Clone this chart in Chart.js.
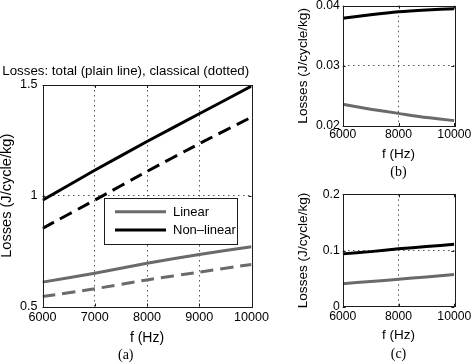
<!DOCTYPE html>
<html>
<head>
<meta charset="utf-8">
<script src="https://cdn.jsdelivr.net/npm/chart.js@4"></script>
<style>
html, body { margin: 0; padding: 0; background: #fff; }
#wrap { position: relative; width: 474px; height: 362px; overflow: hidden; }
canvas { position: absolute; }
</style>
</head>
<body>
<div id="wrap">
  <canvas id="panelA"></canvas>
  <canvas id="panelB"></canvas>
  <canvas id="panelC"></canvas>
</div>
<script>
// frequency (Hz)
var freq = [6000, 7000, 8000, 9000, 10000];

// (a) total and classical losses (J/cycle/kg)
var totalLinear = [0.61, 0.65, 0.695, 0.735, 0.77];
var classicalLinear = [0.545, 0.58, 0.62, 0.655, 0.69];
var totalNonlinear = [0.98, 1.115, 1.245, 1.37, 1.495];
var classicalNonlinear = [0.853, 0.98, 1.11, 1.235, 1.355];

// (b)
var bLinear = [0.0236, 0.0228, 0.0221, 0.0214, 0.0209];
var bNonlinear = [0.0379, 0.0385, 0.039, 0.0393, 0.0395];

// (c)
var cLinear = [0.041, 0.0448, 0.0488, 0.053, 0.0575];
var cNonlinear = [0.094, 0.098, 0.103, 0.107, 0.111];

var seriesNames = ['Linear', 'Non\u2013linear'];
var titleA = 'Losses: total (plain line), classical (dotted)';
var xLabel = 'f (Hz)';
var yLabel = 'Losses (J/cycle/kg)';

Chart.defaults.font.family = '"Liberation Sans", Arial, sans-serif';
Chart.defaults.color = '#000';

var GRAY = '#6a6a6a';

function line(label, data, color, dashed) {
  return {
    label: label,
    data: freq.map(function (f, i) { return {x: f, y: data[i]}; }),
    borderColor: color,
    borderWidth: 3,
    borderDash: dashed ? [13, 7] : [],
    pointRadius: 0,
    tension: 0.2,
    fill: false
  };
}

// box round the axes plus little inward tick marks, like matlab
var framePlugin = {
  id: 'frame',
  afterDatasetsDraw: function (chart) {
    var ctx = chart.ctx, a = chart.chartArea, sx = chart.scales.x, sy = chart.scales.y;
    ctx.save();
    ctx.strokeStyle = '#1c1c1c';
    ctx.lineWidth = 1;
    ctx.strokeRect(Math.round(a.left) + 0.5, Math.round(a.top) + 0.5,
                   Math.round(a.right - a.left), Math.round(a.bottom - a.top));
    ctx.beginPath();
    sx.ticks.forEach(function (tk) {
      var px = Math.round(sx.getPixelForValue(tk.value)) + 0.5;
      ctx.moveTo(px, a.bottom); ctx.lineTo(px, a.bottom - 3);
      ctx.moveTo(px, a.top); ctx.lineTo(px, a.top + 3);
    });
    sy.ticks.forEach(function (tk) {
      var py = Math.round(sy.getPixelForValue(tk.value)) + 0.5;
      ctx.moveTo(a.left, py); ctx.lineTo(a.left + 3, py);
      ctx.moveTo(a.right, py); ctx.lineTo(a.right - 3, py);
    });
    ctx.stroke();
    ctx.restore();
  }
};

// legend box inside panel (a), solid series only
var legendPlugin = {
  id: 'boxLegend',
  afterDraw: function (chart) {
    var opts = chart.options.plugins.boxLegend;
    if (!opts || !opts.show) return;
    var ctx = chart.ctx, a = chart.chartArea;
    var x0 = a.left + 61.5, y0 = a.top + 112.7, w = 133, h = 45.6;
    ctx.save();
    ctx.fillStyle = '#fff';
    ctx.fillRect(x0, y0, w, h);
    ctx.strokeStyle = '#1c1c1c';
    ctx.lineWidth = 1;
    ctx.strokeRect(Math.round(x0) + 0.5, Math.round(y0) + 0.5, Math.round(w), Math.round(h));
    ctx.font = '13px "Liberation Sans", Arial, sans-serif';
    ctx.textBaseline = 'middle';
    ctx.fillStyle = '#000';
    var rowY = [14, 32.3], k = 0;
    chart.data.datasets.forEach(function (ds) {
      if (ds.borderDash.length) return;
      var y = y0 + rowY[k++];
      ctx.strokeStyle = ds.borderColor;
      ctx.lineWidth = 3;
      ctx.beginPath();
      ctx.moveTo(x0 + 11, y); ctx.lineTo(x0 + 62, y);
      ctx.stroke();
      ctx.fillText(ds.label, x0 + 69, y + 0.5);
    });
    ctx.restore();
  }
};

function makePanel(id, p) {
  var cv = document.getElementById(id);
  var B = p.box;
  cv.width = B.w; cv.height = B.h;
  cv.style.left = B.x + 'px'; cv.style.top = B.y + 'px';
  cv.style.width = B.w + 'px'; cv.style.height = B.h + 'px';

  var l = p.area.l - B.x, t = p.area.t - B.y, r = p.area.r - B.x, b = p.area.b - B.y;

  var subSize = 14, titleSize = 13.3;
  var axSize = p.axSize, yTitleSize = p.yTitleSize, tickSize = p.tickSize;
  var subPadTop = 2;
  var subPadBottom = Math.max(0, B.h - (p.subY - B.y) - subSize / 2);
  var xBottom = B.h - subPadBottom - subSize - subPadTop;
  var xTitlePad = xBottom - (p.xTitleY - B.y) - axSize / 2;
  var xHeight = xBottom - b;
  var xTickPad = (p.xTickY - B.y) - b - tickSize * 1.2 / 2;
  var yTitlePad = (p.yTitleX - B.x) - yTitleSize / 2;

  var titleOpts = {display: false};
  var padTop = t;
  if (p.title) {
    var tpTop = (p.titleY - B.y) - titleSize * 1.2 / 2;
    titleOpts = {
      display: true, text: p.title, color: '#000',
      font: {size: titleSize, weight: 'normal', lineHeight: 1.2},
      padding: {top: tpTop, bottom: t - tpTop - titleSize * 1.2}
    };
    padTop = 0;
  }

  var interior = function (c) {
    var s = c.scale;
    return (c.tick && c.tick.value > s.min && c.tick.value < s.max) ? '#555' : 'rgba(0,0,0,0)';
  };

  return new Chart(cv, {
    type: 'line',
    data: {datasets: p.datasets},
    options: {
      responsive: false,
      animation: false,
      events: [],
      layout: {padding: {left: 0, top: padTop, right: B.w - r, bottom: 0}},
      scales: {
        x: {
          type: 'linear',
          min: freq[0], max: freq[freq.length - 1],
          afterFit: function (s) { s.height = xHeight; s.paddingLeft = 0; s.paddingRight = 0; },
          ticks: {
            stepSize: p.xStep, autoSkip: false, maxRotation: 0, padding: xTickPad,
            font: {size: tickSize}, color: '#000',
            callback: function (v) { return String(v); }
          },
          grid: {color: interior, lineWidth: 1, drawTicks: false},
          border: {display: false, dash: [1.5, 3.5]},
          title: {display: true, text: xLabel, color: '#000',
                  font: {size: axSize, lineHeight: 1}, padding: {top: 0, bottom: xTitlePad}}
        },
        y: {
          min: p.yMin, max: p.yMax,
          afterFit: function (s) { s.width = l; s.paddingTop = 0; s.paddingBottom = 0; },
          ticks: {
            stepSize: p.yStep, autoSkip: false, padding: p.yTickPad,
            font: {size: tickSize}, color: '#000',
            callback: function (v) { return String(+v.toFixed(3)); }
          },
          grid: {color: interior, lineWidth: 1, drawTicks: false},
          border: {display: false, dash: [1.5, 3.5]},
          title: {display: true, text: yLabel, color: '#000',
                  font: {size: yTitleSize, lineHeight: 1}, padding: {top: yTitlePad, bottom: 0}}
        }
      },
      plugins: {
        legend: {display: false},
        tooltip: {enabled: false},
        title: titleOpts,
        subtitle: {
          display: true, position: 'bottom', text: p.sub, fullSize: p.subFull, color: '#000',
          font: {family: '"Liberation Serif", "Times New Roman", serif', size: subSize, weight: 'normal', lineHeight: 1},
          padding: {top: subPadTop, bottom: subPadBottom}
        },
        boxLegend: {show: !!p.legend}
      }
    },
    plugins: [framePlugin, legendPlugin]
  });
}

makePanel('panelA', {
  box: {x: 0, y: 50, w: 287, h: 312},
  area: {l: 42.5, t: 85, r: 251.5, b: 306.5},
  title: titleA, titleY: 71,
  xTickY: 317.5, xTitleY: 338, subY: 355, yTitleX: 7, yTickPad: 5,
  tickSize: 12.6, axSize: 14, yTitleSize: 14.6,
  sub: '(a)', subFull: true,
  xStep: 1000, yMin: 0.5, yMax: 1.5, yStep: 0.5,
  legend: true,
  datasets: [
    line(seriesNames[0], totalLinear, GRAY, false),
    line(seriesNames[1], totalNonlinear, '#000', false),
    line(seriesNames[0] + ' classical', classicalLinear, GRAY, true),
    line(seriesNames[1] + ' classical', classicalNonlinear, '#000', true)
  ]
});

makePanel('panelB', {
  box: {x: 287, y: 0, w: 187, h: 180},
  area: {l: 342.7, t: 5.7, r: 454.3, b: 126},
  xTickY: 135, xTitleY: 154.5, subY: 172.5, yTitleX: 303, yTickPad: 3,
  tickSize: 12.2, axSize: 13.5, yTitleSize: 13.6,
  sub: '(b)', subFull: false,
  xStep: 2000, yMin: 0.02, yMax: 0.04, yStep: 0.01,
  datasets: [
    line(seriesNames[0], bLinear, GRAY, false),
    line(seriesNames[1], bNonlinear, '#000', false)
  ]
});

makePanel('panelC', {
  box: {x: 287, y: 180, w: 187, h: 182},
  area: {l: 342.7, t: 194.3, r: 454.3, b: 306.7},
  xTickY: 316.7, xTitleY: 335, subY: 354, yTitleX: 303, yTickPad: 3,
  tickSize: 12.2, axSize: 13.5, yTitleSize: 13.6,
  sub: '(c)', subFull: false,
  xStep: 2000, yMin: 0, yMax: 0.2, yStep: 0.1,
  datasets: [
    line(seriesNames[0], cLinear, GRAY, false),
    line(seriesNames[1], cNonlinear, '#000', false)
  ]
});
</script>
</body>
</html>
